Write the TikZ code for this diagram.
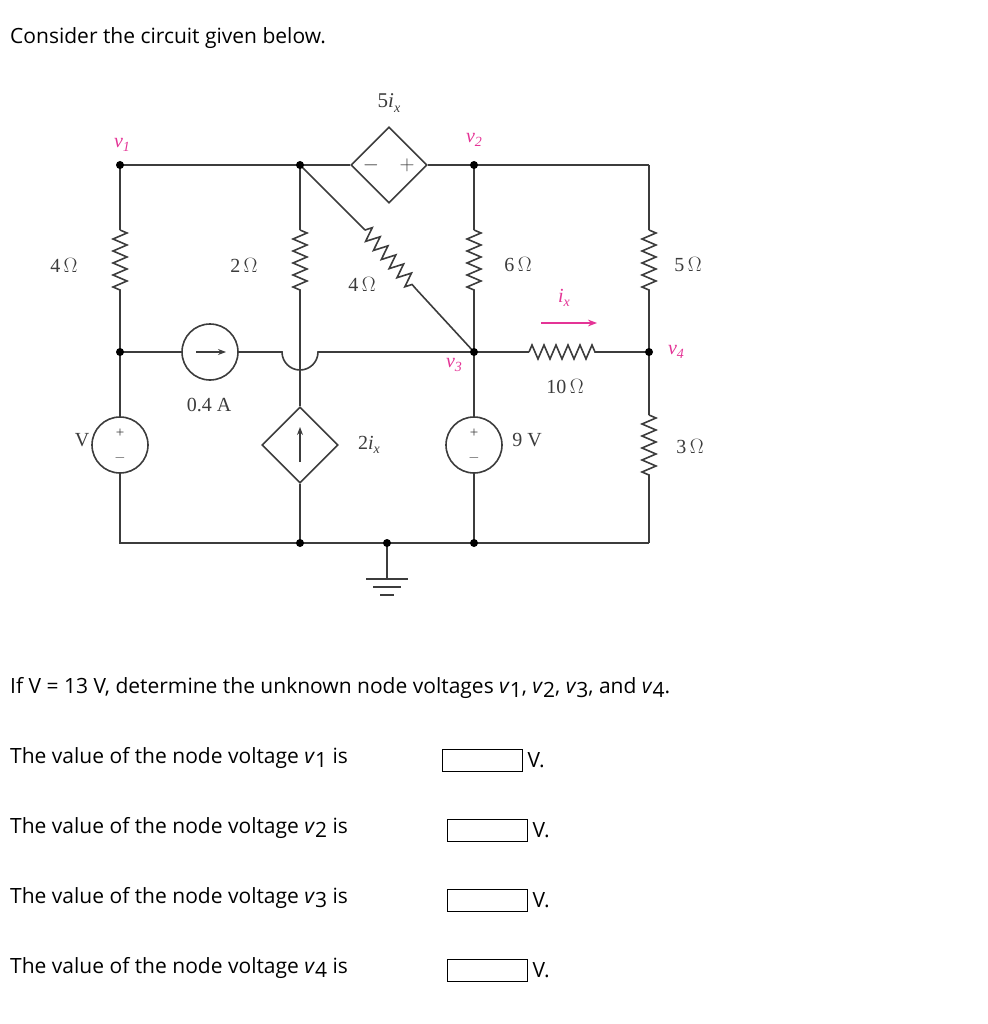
\documentclass[tikz,border=0pt]{standalone}
\usepackage{fontspec}
\setmainfont{Open Sans}
\newfontfamily\circfont{Liberation Serif}
\usetikzlibrary{arrows.meta,decorations.pathmorphing,positioning,shapes.geometric}
\definecolor{nodepink}{RGB}{228,52,150}
\definecolor{wiregray}{RGB}{60,60,60}
\tikzset{
  wire/.style={draw=wiregray,line width=1.6pt},
  res/.style={wire,decorate,decoration={zigzag,segment length=12pt,amplitude=7pt}},
  dot/.style={circle,fill=black,inner sep=0pt,minimum size=8pt},
  lbl/.style={font=\circfont\fontsize{20}{22}\selectfont,text=wiregray,inner sep=1pt},
  vlbl/.style={font=\circfont\itshape\fontsize{20}{21}\selectfont,text=nodepink,inner sep=1pt},
  qtext/.style={anchor=west,font=\fontsize{21}{26}\selectfont,inner sep=0pt},
  ansbox/.style={draw,line width=0.8pt,minimum width=80pt,minimum height=22pt,inner sep=0pt}
}
\newcommand{\vv}[1]{\textit{v}\raisebox{-0.35ex}{#1}}
\newcommand{\sub}[1]{\raisebox{-0.45ex}{\fontsize{14}{14}\selectfont #1}}
\begin{document}
\begin{tikzpicture}[x=1pt,y=-1pt]
  \useasboundingbox (0,0) rectangle (987,1024);
  % nodes of the circuit
  \coordinate (n1) at (120,165);
  \coordinate (ta) at (300,165);
  \coordinate (n2) at (474,165);
  \coordinate (tr) at (649,165);
  \coordinate (ml) at (120,352);
  \coordinate (n3) at (474,352);
  \coordinate (n4) at (649,352);
  \coordinate (bl) at (120,543);
  \coordinate (bb) at (300,543);
  \coordinate (gnd) at (387,543);
  \coordinate (bc) at (474,543);
  \coordinate (br) at (649,543);

  % top rail with dependent voltage source
  \node[wire,diamond,minimum size=76pt,inner sep=0pt] (vdep) at (389,165) {};
  \node[lbl] at ([xshift=-18pt]vdep.center) {$-$};
  \node[lbl] at ([xshift=18pt]vdep.center) {$+$};
  \draw[wire] (n1) -- (vdep.west) (vdep.east) -- (tr);
  \node[lbl,font=\circfont\fontsize{21}{22}\selectfont] at (389,103) {5\textit{i}\sub{\textit{x}}};

  % left branch
  \draw[wire] (n1) -- (120,230);
  \draw[res] (120,230) -- (120,294);
  \node[wire,circle,minimum size=56pt,inner sep=0pt] (vs) at (120,445) {};
  \draw[wire] (120,294) -- (vs.north) (vs.south) -- (bl) -- (br);
  \node[lbl,font=\circfont\fontsize{15}{16}\selectfont] at (120,433) {+};
  \node[lbl,font=\circfont\fontsize{15}{16}\selectfont] at (120,458) {$-$};

  % middle-left branch
  \draw[wire] (ta) -- (300,230);
  \draw[res] (300,230) -- (300,294);
  \node[wire,diamond,minimum size=76pt,inner sep=0pt] (cdep) at (300,445) {};
  \draw[wire] (300,294) -- (cdep.north) (cdep.south) -- (bb);
  \draw[wire,-{Stealth[length=8pt]},line width=1.2pt] (300,462) -- (300,427);

  % diagonal 4 ohm
  \draw[wire] (ta) -- (365,230);
  \draw[res] (365,230) -- (416,289);
  \draw[wire] (416,289) -- (n3);

  % middle row with 0.4 A source and crossover
  \node[wire,circle,minimum size=56pt,inner sep=0pt] (cs) at (210,352) {};
  \draw[wire,-{Stealth[length=8pt]},line width=1.2pt] (196,352) -- (226,352);
  \draw[wire] (ml) -- (cs.west) (cs.east) -- (282,352) arc (180:0:18) -- (n3);
  \draw[wire] (n3) -- (529,352);
  \draw[res] (529,352) -- (597,352);
  \draw[wire] (597,352) -- (n4);

  % v2 branch
  \draw[wire] (n2) -- (474,230);
  \draw[res] (474,230) -- (474,294);
  \node[wire,circle,minimum size=56pt,inner sep=0pt] (vnine) at (474,445) {};
  \draw[wire] (474,294) -- (vnine.north) (vnine.south) -- (bc);
  \node[lbl,font=\circfont\fontsize{15}{16}\selectfont] at (474,433) {+};
  \node[lbl,font=\circfont\fontsize{15}{16}\selectfont] at (474,458) {$-$};

  % right branch
  \draw[wire] (tr) -- (649,230);
  \draw[res] (649,230) -- (649,294);
  \draw[wire] (649,294) -- (n4) -- (649,415);
  \draw[res] (649,415) -- (649,477);
  \draw[wire] (649,477) -- (br);

  % ground
  \draw[wire] (gnd) -- (387,579);
  \draw[wire] (366,579) -- (408,579) (373,587) -- (401,587) (380,595) -- (394,595);

  % junction dots
  \foreach \p in {n1,ta,n2,ml,n3,n4,bb,gnd,bc}
    \node[dot] at (\p) {};

  % current arrow
  \draw[nodepink,line width=1.6pt,-{Stealth[length=9pt]}] (541,323) -- (597,323);
  \node[vlbl] at (564,298) {i\sub{x}};

  % labels
  \node[vlbl] at (122,145) {v\sub{1}};
  \node[vlbl] at (474,140) {v\sub{2}};
  \node[vlbl] at (454,365) {v\sub{3}};
  \node[vlbl] at (676,352) {v\sub{4}};
  \node[lbl] at (64,265) {4\,$\Omega$};
  \node[lbl] at (244,265) {2\,$\Omega$};
  \node[lbl] at (362,284) {4\,$\Omega$};
  \node[lbl] at (518,265) {6\,$\Omega$};
  \node[lbl] at (688,265) {5\,$\Omega$};
  \node[lbl] at (565,387) {10\,$\Omega$};
  \node[lbl] at (209,405) {0.4 A};
  \node[lbl] at (82,440) {V};
  \node[lbl] at (369,445) {2\textit{i}\sub{\textit{x}}};
  \node[lbl] at (527,440) {9 V};
  \node[lbl] at (690,447) {3\,$\Omega$};

  % question text
  \node[qtext] (title) at (10,38) {Consider the circuit given below.};
  \node[qtext] (ask) at (10,688) {If V = 13 V, determine the unknown node voltages \vv{1}, \vv{2}, \vv{3}, and \vv{4}.};
  \node[qtext] (q1) at (10,758) {The value of the node voltage \vv{1} is};
  \node[qtext] (q2) at (10,828) {The value of the node voltage \vv{2} is};
  \node[qtext] (q3) at (10,898) {The value of the node voltage \vv{3} is};
  \node[qtext] (q4) at (10,968) {The value of the node voltage \vv{4} is};
  \node[ansbox] (a1) at (482,760) {};
  \node[ansbox] (a2) at (487,830) {};
  \node[ansbox] (a3) at (487,900) {};
  \node[ansbox] (a4) at (487,970) {};
  \foreach \i in {1,...,4}
    \node[qtext,right=5pt of a\i] {V.};
\end{tikzpicture}
\end{document}
